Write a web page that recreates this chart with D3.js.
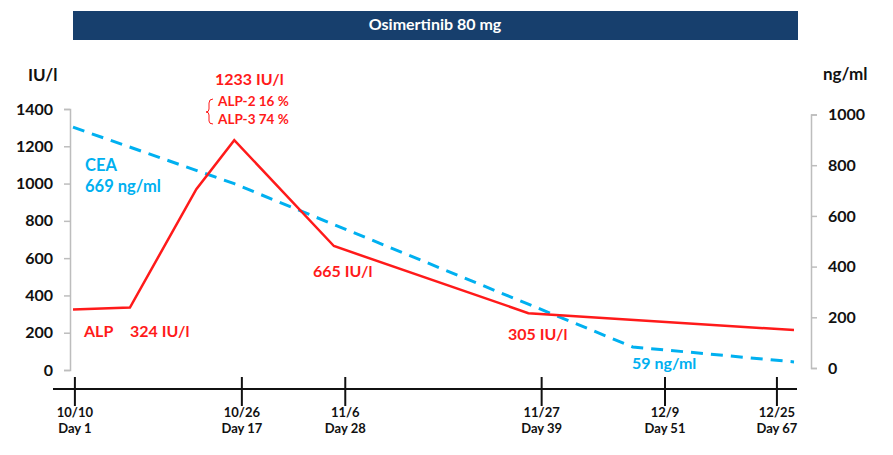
<!DOCTYPE html>
<html>
<head>
<meta charset="utf-8">
<script src="https://cdn.jsdelivr.net/npm/d3@7"></script>
<style>
  body { margin: 0; background: #fff; }
  text { font-family: Lato, "Open Sans", sans-serif; font-weight: bold; }
</style>
</head>
<body>
<div id="viz"></div>
<script>
// values
var alpDays = [0, 6, 13, 17, 27.5, 48, 76];          // days since 10/10
var alpValues = [324, 335, 970, 1233, 665, 305, 214]; // IU/l
var ceaDays = [0, 17, 59, 76];
var ceaValues = [950, 727, 83, 24];                   // ng/ml

var leftTicks = [0, 200, 400, 600, 800, 1000, 1200, 1400];
var rightTicks = [0, 200, 400, 600, 800, 1000];

// where the date ticks sit on the time line (days)
var tickDays = [0.2, 17.8, 28.7, 49.4, 62.4, 74.2];
var tickDates = ["10/10", "10/26", "11/6", "11/27", "12/9", "12/25"];
var tickDayNames = ["Day 1", "Day 17", "Day 28", "Day 39", "Day 51", "Day 67"];

var width = 893;
var height = 455;
var red = "#ff1a1a";
var blue = "#00b0f0";

var svg = d3.select("#viz")
    .append("svg")
    .attr("width", width)
    .attr("height", height);

var x = d3.scaleLinear().domain([0, 76]).range([73, 794]);
var yLeft = d3.scaleLinear().domain([0, 1400]).range([370, 109]);
var yRight = d3.scaleLinear().domain([0, 1000]).range([368, 114.5]);

// header bar
svg.append("rect")
    .attr("x", 73).attr("y", 11)
    .attr("width", 725).attr("height", 29)
    .attr("fill", "#173f6d");
svg.append("text")
    .attr("x", 435).attr("y", 26)
    .attr("text-anchor", "middle")
    .attr("dominant-baseline", "middle")
    .attr("fill", "white")
    .style("font-size", "16px")
    .text("Osimertinib 80 mg");

// left axis
var gl = svg.append("g")
    .attr("transform", "translate(70,0)")
    .call(d3.axisLeft(yLeft).tickValues(leftTicks).tickFormat(d3.format("d"))
        .tickSize(6).tickPadding(11));
gl.selectAll("path, line").attr("stroke", "#bdbdbd").attr("stroke-width", 1.5);
gl.selectAll("text").attr("fill", "#111").style("font-size", "16px");

// right axis
var gr = svg.append("g")
    .attr("transform", "translate(811,0)")
    .call(d3.axisRight(yRight).tickValues(rightTicks).tickFormat(d3.format("d"))
        .tickSize(6).tickPadding(11));
gr.selectAll("path, line").attr("stroke", "#bdbdbd").attr("stroke-width", 1.5);
gr.selectAll("text").attr("fill", "#111").style("font-size", "16px");

// unit labels
svg.append("text").attr("x", 28).attr("y", 77)
    .attr("dominant-baseline", "middle")
    .style("font-size", "17px").attr("fill", "#111").text("IU/l");
svg.append("text").attr("x", 823).attr("y", 76)
    .attr("dominant-baseline", "middle")
    .style("font-size", "17px").attr("fill", "#111").text("ng/ml");

// time line with date ticks
svg.append("line")
    .attr("x1", 53).attr("x2", 797)
    .attr("y1", 389).attr("y2", 389)
    .attr("stroke", "#111").attr("stroke-width", 2);

svg.selectAll(".tick-mark")
    .data(tickDays)
    .enter()
    .append("line")
    .attr("x1", function(d) { return x(d); })
    .attr("x2", function(d) { return x(d); })
    .attr("y1", 377).attr("y2", 406)
    .attr("stroke", "#111").attr("stroke-width", 2);

svg.selectAll(".tick-date")
    .data(tickDays)
    .enter()
    .append("text")
    .attr("x", function(d) { return x(d); })
    .attr("y", 414)
    .attr("text-anchor", "middle")
    .attr("dominant-baseline", "middle")
    .attr("fill", "#111")
    .style("font-size", "13px")
    .text(function(d, i) { return tickDates[i]; });

svg.selectAll(".tick-day")
    .data(tickDays)
    .enter()
    .append("text")
    .attr("x", function(d) { return x(d); })
    .attr("y", 430)
    .attr("text-anchor", "middle")
    .attr("dominant-baseline", "middle")
    .attr("fill", "#111")
    .style("font-size", "13px")
    .text(function(d, i) { return tickDayNames[i]; });

// CEA dashed line
var ceaLine = d3.line()
    .x(function(d, i) { return x(ceaDays[i]); })
    .y(function(d) { return yRight(d); });
svg.append("path")
    .datum(ceaValues)
    .attr("d", ceaLine)
    .attr("fill", "none")
    .attr("stroke", blue)
    .attr("stroke-width", 3)
    .attr("stroke-dasharray", "12,8");

// ALP line
var alpLine = d3.line()
    .x(function(d, i) { return x(alpDays[i]); })
    .y(function(d) { return yLeft(d); });
svg.append("path")
    .datum(alpValues)
    .attr("d", alpLine)
    .attr("fill", "none")
    .attr("stroke", red)
    .attr("stroke-width", 2.5)
    .attr("stroke-linejoin", "miter");

// annotations
function note(tx, ty, str, color, size) {
    svg.append("text")
        .attr("x", tx).attr("y", ty)
        .attr("dominant-baseline", "middle")
        .attr("fill", color)
        .style("font-size", size + "px")
        .text(str);
}
note(215, 81, "1233 IU/l", red, 16);
note(218, 103, "ALP-2 16 %", red, 13.5);
note(218, 121, "ALP-3 74 %", red, 13.5);
note(85, 167, "CEA", blue, 16.5);
note(85, 188, "669 ng/ml", blue, 16.5);
note(84, 333, "ALP", red, 16);
note(130, 333, "324 IU/l", red, 16);
note(313, 273, "665 IU/l", red, 16);
note(508, 336, "305 IU/l", red, 16);
note(632, 365, "59 ng/ml", blue, 16);

// brace in front of the ALP fractions
svg.append("path")
    .attr("d", "M213,99 Q209,99 209,103 L209,109 Q209,112 206,112 Q209,112 209,115 L209,121 Q209,124 213,124")
    .attr("fill", "none")
    .attr("stroke", red)
    .attr("stroke-width", 1);
</script>
</body>
</html>
